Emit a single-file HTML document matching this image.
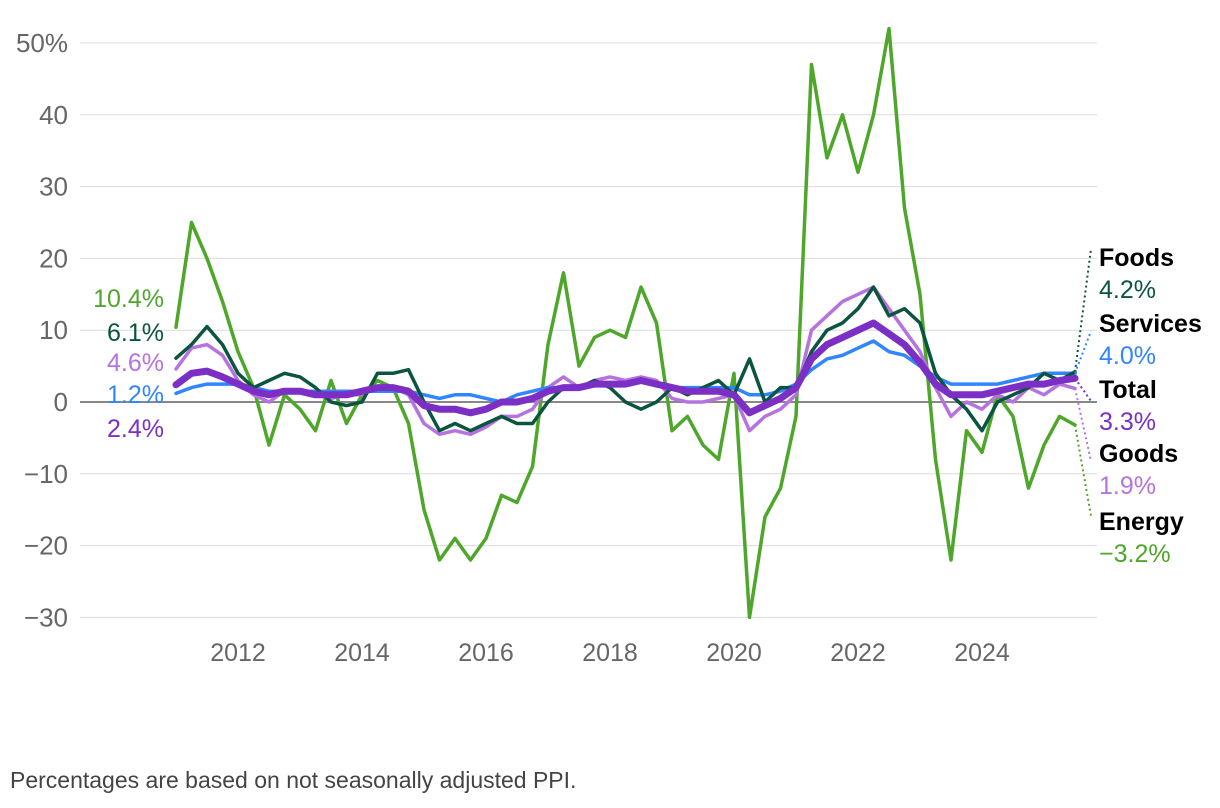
<!DOCTYPE html>
<html><head><meta charset="utf-8"><style>
body{margin:0;background:#fff;font-family:"Liberation Sans",sans-serif}
svg{display:block}
</style></head><body>
<svg id="c" width="1220" height="808" xmlns="http://www.w3.org/2000/svg"></svg>
<script>
const yTicks=[50,40,30,20,10,0,-10,-20,-30];
const yTickLabels=["50%","40","30","20","10","0","\u221210","\u221220","\u221230"];
const xTicks=[2012,2014,2016,2018,2020,2022,2024];
const energy=[10.4,25,20,14,7,2,-6,1,-1,-4,3,-3,1,3,2,-3,-15,-22,-19,-22,-19,-13,-14,-9,8,18,5,9,10,9,16,11,-4,-2,-6,-8,4,-30,-16,-12,-2,47,34,40,32,40,52,27,15,-8,-22,-4,-7,1,-2,-12,-6,-2,-3.2];
const foods=[6.1,8,10.5,8,4,2,3,4,3.5,2,0,-0.5,0,4,4,4.5,0,-4,-3,-4,-3,-2,-3,-3,0,2,2,3,2,0,-1,0,2,1,2,3,1,6,0,2,2,7,10,11,13,16,12,13,11,4,1,-1,-4,0,1,2,4,3,4.2];
const goods=[4.6,7.5,8,6.5,3,1,0,1.5,1.5,1,0.5,1,1,2,2,1,-3,-4.5,-4,-4.5,-3.5,-2,-2,-1,2,3.5,2,3,3.5,3,3.5,3,0.5,0,0,0.5,1,-4,-2,-1,1,10,12,14,15,16,13,10,7,2,-2,0,-1,1,0,2,1,2.5,1.9];
const services=[1.2,2,2.5,2.5,2.5,2,1.5,1.5,1.5,1.5,1.5,1.5,1.5,1.5,1.5,1.5,1,0.5,1,1,0.5,0,1,1.5,2,2,2,2.5,2.5,2.5,3,2.5,2,2,2,2,2,1,1,1.5,2.5,4.5,6,6.5,7.5,8.5,7,6.5,5,3.5,2.5,2.5,2.5,2.5,3,3.5,4,4,4.0];
const total=[2.4,4,4.3,3.5,2.5,1.5,1,1.5,1.5,1,1,1,1.5,2,2,1.5,-0.5,-1,-1,-1.5,-1,0,0,0.5,1.5,2,2,2.5,2.5,2.5,3,2.5,2,1.5,1.5,1.5,1,-1.5,-0.5,0.5,2,6,8,9,10,11,9.5,8,5.5,2.5,1,1,1,1.5,2,2.5,2.5,3,3.3];
const startYear=2011, step=0.25;

const NS="http://www.w3.org/2000/svg";
const svg=document.getElementById('c');
const X=t=>238+(t-2012)*62;
const Y=v=>402-v*7.18;
function mk(tag,attrs,parent){const e=document.createElementNS(NS,tag);for(const k in attrs)e.setAttribute(k,attrs[k]);(parent||svg).appendChild(e);return e;}
yTicks.forEach((v,i)=>{
  const l=mk('line',{x1:80,x2:1097,y1:Y(v),y2:Y(v),stroke:v===0?'#888':'#dcdcdc','stroke-width':v===0?2:1});
  
  
  const t=mk('text',{x:68,y:Y(v)+9,'text-anchor':'end','font-size':26,fill:'#666'});
  t.textContent=yTickLabels[i];
  
  
});
xTicks.forEach(yr=>{
  const t=mk('text',{x:X(yr),y:661,'text-anchor':'middle','font-size':25,fill:'#666'});
  t.textContent=yr;
  
  
});
function series(data,color,w,name){
  const d=data.map((v,i)=>(i?'L':'M')+X(startYear+i*step).toFixed(1)+','+Y(v).toFixed(1)).join('');
  const p=mk('path',{d:d,fill:'none',stroke:color,'stroke-width':w,'stroke-linejoin':'round','stroke-linecap':'round'});
  
  
  return p;
}
series(energy,'#4ea72a',3.5,'energy-line');
series(goods,'#b673e0',3.5,'goods-line');
series(services,'#2f86ff',3.5,'services-line');
series(foods,'#0a5440',3.5,'foods-line');
series(total,'#7b2fc4',7,'total-line');
const lastX=X(startYear+(total.length-1)*step);
const right=[["Foods","4.2%","#0a5440",257,foods],["Services","4.0%","#2f86ff",323,services],["Total","3.3%","#7b2fc4",389,total],["Goods","1.9%","#b673e0",453,goods],["Energy","\u22123.2%","#4ea72a",521,energy]];
right.forEach(r=>{
  const ld=mk('line',{x1:lastX,y1:Y(r[4][r[4].length-1]),x2:1091,y2:r[3]+(r[0]==="Foods"?-8:r[0]==="Energy"?-5:r[0]==="Total"?12:8),stroke:r[2],'stroke-width':2,'stroke-dasharray':'2 3'});
  
  
  const a=mk('text',{x:1099,y:r[3]+9,'font-size':25,'font-weight':'bold',fill:'#000'});
  a.textContent=r[0];
  
  
  const b=mk('text',{x:1099,y:r[3]+41,'font-size':25,fill:r[2]});
  b.textContent=r[1];
  
  
});
const left=[["10.4%","#4ea72a",298],["6.1%","#0a5440",332],["4.6%","#b673e0",362],["1.2%","#2f86ff",394],["2.4%","#7b2fc4",428]];
left.forEach(r=>{
  const t=mk('text',{x:164,y:r[2]+9,'text-anchor':'end','font-size':25,fill:r[1]});
  t.textContent=r[0];
  
  
});
const fn=mk('text',{x:10,y:788,'font-size':23,fill:'#444'});
fn.textContent="Percentages are based on not seasonally adjusted PPI.";


</script>
</body></html>
